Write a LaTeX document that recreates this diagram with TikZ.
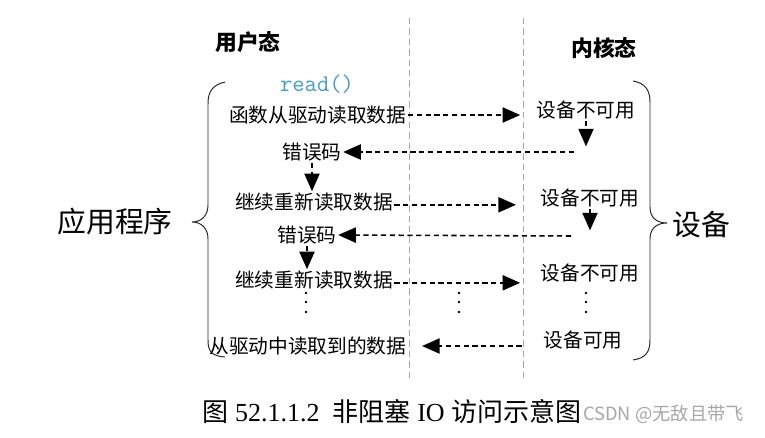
\documentclass[tikz,border=0pt]{standalone}
\usepackage{fontspec}
\setmainfont{Liberation Serif}
\newfontfamily\cjk{Noto Sans CJK SC}
\usetikzlibrary{arrows.meta}

\definecolor{readblue}{RGB}{70,156,196}

\begin{document}
\begin{tikzpicture}[
	  x=0.025cm, y=-0.025cm,
	  txt/.style={font=\cjk\fontsize{14}{16}\selectfont, inner sep=1pt},
	  big/.style={font=\cjk\fontsize{20.5}{22}\selectfont, inner sep=1pt},
	  head/.style={font=\cjk\bfseries\fontsize{15.5}{17}\selectfont, inner sep=1pt},
	  arrow/.style={line width=1.1pt, dash pattern=on 1.3mm off 0.9mm, -{Triangle[length=4.4mm,width=3.8mm]}},
	  lane/.style={gray!70, semithick, dash pattern=on 1.6mm off 1mm},
	  brace/.style={black!85, line width=0.7pt}
	]
	\useasboundingbox (0,0) rectangle (765,437);

	% lanes
	\coordinate (ul) at (409,18);
	\coordinate (kl) at (523,18);
	\draw [lane] (ul) -- (409,378);
	\draw [lane] (kl) -- (523,378);

	\node (user) [head] at (248,42) {用户态};
	\node (kernel) [head] at (604,48) {内核态};
	\node (read) [font=\ttfamily\fontsize{17}{19}\selectfont, text=readblue, inner sep=1pt] at (317,84) {read()};

	% application side
	\node (r1) [txt, anchor=east] at (408,115) {函数从驱动读取数据};
	\node (e1) [txt] at (312,152) {错误码};
	\node (r2) [txt] at (314,202) {继续重新读取数据};
	\node (e2) [txt] at (307,235) {错误码};
	\node (r3) [txt] at (314,280) {继续重新读取数据};
	\node (r4) [txt, anchor=east] at (408,346) {从驱动中读取到的数据};

	% device side
	\node (d1) [txt] at (586,110) {设备不可用};
	\node (d2) [txt] at (590,198) {设备不可用};
	\node (d3) [txt] at (590,273) {设备不可用};
	\node (d4) [txt] at (583,340) {设备可用};

	\coordinate (b1) at (574,152);
	\coordinate (b2) at (571,236);

	\draw [arrow] (r1.east) -- ([xshift=-2]r1.east -| kl);
	\draw [arrow] (d1.south) -- ([yshift=4]d1.south |- b1);
	\draw [arrow] (b1) -- (e1.east);
	\draw [arrow] (e1.south) -- (e1.south |- r2.north);
	\draw [arrow] ([yshift=-2]r2.east) -- ([xshift=-5,yshift=-2]r2.east -| kl);
	\draw [arrow] (d2.south) -- ([yshift=4]d2.south |- b2);
	\draw [arrow] (b2) -- (e2.east);
	\draw [arrow] (e2.south) -- (e2.south |- r3.north);
	\draw [arrow] ([yshift=-2]r3.east) -- ([xshift=-2,yshift=-2]r3.east -| kl);
	\draw [arrow, shorten >=10] ([xshift=-1]r4.east -| kl) -- (r4.east);

	\foreach \x in {306,459,586}
	  \foreach \y in {293,302,312}
	    \fill (\x,\y) circle (1.4);

	% braces
	\draw [brace] (225,82) .. controls (212,85) and (208,92) .. (208,104)
	  -- (208,205) .. controls (208,215) and (202,222) .. (192,222)
	  .. controls (202,222) and (208,229) .. (208,239)
	  -- (208,340) .. controls (208,352) and (212,356) .. (225,357);
	\draw [brace] (633,81) .. controls (645,83) and (650,90) .. (650,102)
	  -- (650,207) .. controls (650,217) and (656,223) .. (667,223)
	  .. controls (656,223) and (650,229) .. (650,239)
	  -- (650,340) .. controls (650,353) and (645,358) .. (633,360);

	\node (app) [big] at (115,222) {应用程序};
	\node (dev) [big] at (701,225) {设备};

	\node (cap) [font=\fontsize{18.5}{20}\selectfont, inner sep=1pt] at (392,412)
	  {{\cjk 图} 52.1.1.2\ \ {\cjk 非阻塞} IO {\cjk 访问示意图}};
	\node (mark) [font=\cjk\fontsize{13}{15}\selectfont, text=gray!70, inner sep=0pt, anchor=west] at (583,414) {CSDN @无敌且带飞};
\end{tikzpicture}
\end{document}
